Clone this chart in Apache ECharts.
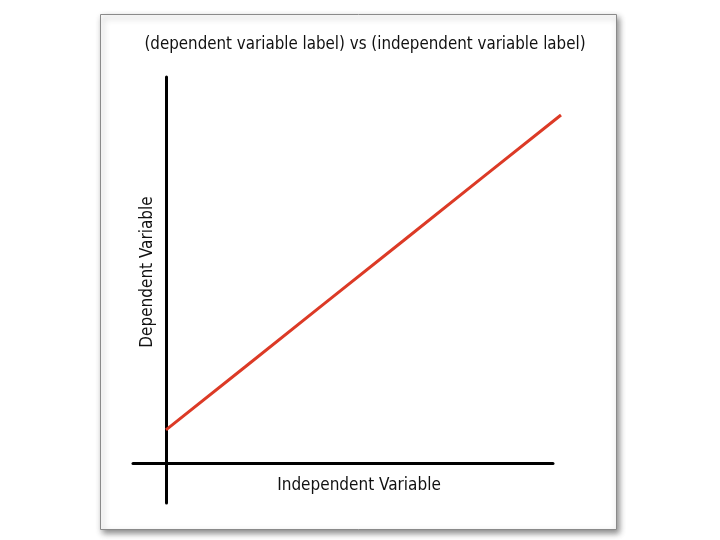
<!DOCTYPE html>
<html>
<head>
<meta charset="utf-8">
<script src="https://cdn.jsdelivr.net/npm/echarts@6/dist/echarts.min.js"></script>
<style>
html,body{margin:0;padding:0;background:#ffffff;}
#main{width:720px;height:540px;}
</style>
</head>
<body>
<div id="main"></div>
<script>
var titleText = '(dependent variable label) vs (independent variable label)';
var xName = 'Independent Variable';
var yName = 'Dependent Variable';
var xValues = [0, 2, 4, 6, 8, 10];
var yValues = [0.84, 2.43, 4.03, 5.62, 7.22, 8.81];

var lineData = xValues.map(function (x, i) { return [x, yValues[i]]; });
var FONT = '"DejaVu Sans Condensed", "DejaVu Sans", sans-serif';
var hiddenAxis = { show: false };

var chart = echarts.init(document.getElementById('main'));
chart.setOption({
  animation: false,
  backgroundColor: '#ffffff',
  graphic: [{
    type: 'rect',
    z: -10,
    shape: { x: 100.5, y: 14.5, width: 516, height: 515 },
    style: {
      fill: '#ffffff',
      stroke: '#8a8a8a',
      lineWidth: 1,
      shadowBlur: 6,
      shadowOffsetX: 2,
      shadowOffsetY: 3,
      shadowColor: 'rgba(0,0,0,0.45)'
    }
  }],
  title: {
    text: titleText,
    left: 360,
    textAlign: 'center',
    top: 31,
    textStyle: { fontFamily: FONT, fontSize: 16.8, fontWeight: 'normal', color: '#111111' }
  },
  grid: [
    { left: 133, top: 77, width: 420, height: 426, containLabel: false },
    { left: 133, top: 77, width: 440, height: 426, containLabel: false }
  ],
  xAxis: [{
    type: 'value',
    gridIndex: 0,
    min: -0.835,
    max: 9.797,
    name: xName,
    nameLocation: 'middle',
    nameGap: -26,
    nameTextStyle: { fontFamily: FONT, fontSize: 17, color: '#111111', padding: [0, 0, 0, 32], verticalAlign: 'top' },
    axisLine: { onZero: true, lineStyle: { color: '#000000', width: 3 } },
    axisTick: { show: false },
    axisLabel: { show: false },
    splitLine: { show: false }
  }, {
    type: 'value',
    gridIndex: 1,
    min: -0.835,
    max: -0.835 + 440 / 39.5,
    show: false,
    splitLine: { show: false }
  }],
  yAxis: [{
    type: 'value',
    gridIndex: 0,
    min: -1.013,
    max: 9.772,
    name: yName,
    nameLocation: 'middle',
    nameGap: -23,
    nameRotate: 90,
    nameTextStyle: { fontFamily: FONT, fontSize: 17, color: '#111111', padding: [0, 0, 0, 36] },
    axisLine: { onZero: true, lineStyle: { color: '#000000', width: 3 } },
    axisTick: { show: false },
    axisLabel: { show: false },
    splitLine: { show: false }
  }, {
    type: 'value',
    gridIndex: 1,
    min: -1.013,
    max: 9.772,
    show: false,
    splitLine: { show: false }
  }],
  series: [{
    type: 'line',
    xAxisIndex: 1,
    yAxisIndex: 1,
    data: lineData,
    clip: false,
    showSymbol: false,
    symbol: 'none',
    lineStyle: { color: '#dc3a26', width: 3 },
    z: 5
  }]
});
</script>
</body>
</html>
